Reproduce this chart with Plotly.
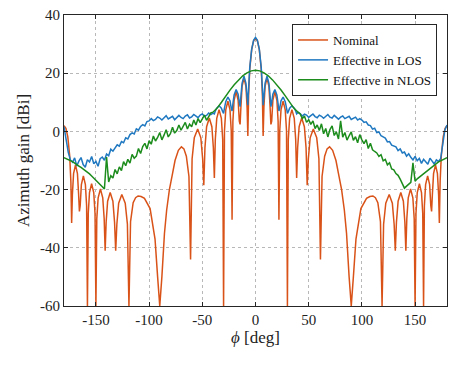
import plotly.graph_objects as go

# ---------------- Nominal pattern ----------------
nominal_phi_neg = [
    -180.00, -178.21, -176.42, -174.62, -173.54, -172.82, -172.10, -171.01, -169.19, -167.36,
    -166.26, -165.52, -164.78, -163.67, -161.79, -159.89, -158.75, -157.98, -157.20, -156.03,
    -154.06, -152.05, -150.83, -150.00, -149.17, -147.91, -145.77, -143.58, -142.23, -141.32,
    -140.39, -138.99, -136.57, -134.05, -132.48, -131.41, -130.31, -128.62, -125.66, -122.46,
    -120.40, -118.96, -117.45, -115.00, -112.70, -110.36, -107.50, -104.36, -99.07, -94.44,
    -92.00, -90.00, -88.00, -85.56, -83.50, -80.93, -78.00, -75.64, -72.50, -69.64,
    -67.30, -65.00, -62.55, -61.04, -59.60, -57.54, -54.34, -51.38, -49.69, -48.59,
    -47.52, -45.95, -43.43, -41.01, -39.61, -38.68, -37.77, -36.42, -34.23, -32.09,
    -30.83, -30.00, -29.17, -27.95, -25.94, -23.97, -22.80, -22.02, -21.25, -20.11,
    -18.21, -16.33, -15.22, -14.48, -13.74, -12.64, -10.81, -8.99, -7.90, -7.18,
    -6.46, -5.38, -3.58, -1.79,
]
nominal_gain_neg = [
    2.0, 1.1, -1.9, -8.5, -17.2, -31.5, -21.7, -14.5, -11.5, -14.5,
    -21.7, -27.5, -25.5, -18.3, -15.3, -18.3, -25.5, -60.0, -28.2, -21.0,
    -18.0, -21.0, -28.2, -60.0, -30.0, -22.8, -19.8, -22.8, -30.0, -41.0,
    -31.2, -24.0, -21.0, -24.0, -31.2, -41.0, -31.9, -24.7, -21.7, -24.7,
    -31.9, -60.0, -31.0, -24.5, -22.8, -22.2, -22.4, -23.0, -26.5, -37.0,
    -50.0, -60.0, -50.0, -35.0, -27.0, -20.0, -14.5, -10.0, -6.5, -5.3,
    -6.0, -8.5, -15.5, -44.0, -9.4, -2.2, 0.8, -2.2, -9.4, -18.5,
    -5.6, 1.6, 4.6, 1.6, -5.6, -16.0, -2.7, 4.5, 7.5, 4.5,
    -2.7, -60.0, 0.2, 7.4, 10.4, 7.4, 0.2, -30.4, 3.5, 10.7,
    13.7, 10.7, 3.5, 2.4, 8.2, 15.4, 18.4, 15.4, 8.2, -1.6,
    12.8, 21.5, 28.1, 31.1,
]
nominal_phi_pos = [
    0.00, 1.79, 3.58, 5.38, 6.46, 7.18, 7.90, 8.99, 10.81, 12.64,
    13.74, 14.48, 15.22, 16.33, 18.21, 20.11, 21.25, 22.02, 22.80, 23.97,
    25.94, 27.95, 29.17, 30.00, 30.83, 32.09, 34.23, 36.42, 37.77, 38.68,
    39.61, 41.01, 43.43, 45.95, 47.52, 48.59, 49.69, 51.38, 54.34, 57.54,
    59.60, 61.04, 62.55, 65.00, 67.30, 69.64, 72.50, 75.64, 78.00, 80.93,
    83.50, 85.56, 88.00, 90.00, 92.00, 94.44, 99.07, 104.36, 107.50, 110.36,
    112.70, 115.00, 117.45, 118.96, 120.40, 122.46, 125.66, 128.62, 130.31, 131.41,
    132.48, 134.05, 136.57, 138.99, 140.39, 141.32, 142.23, 143.58, 145.77, 147.91,
    149.17, 150.00, 150.83, 152.05, 154.06, 156.03, 157.20, 157.98, 158.75, 159.89,
    161.79, 163.67, 164.78, 165.52, 166.26, 167.36, 169.19, 171.01, 172.10, 172.82,
    173.54, 174.62, 176.42, 178.21, 180.00,
]
nominal_gain_pos = [
    32.0, 31.1, 28.1, 21.5, 12.8, -1.6, 8.2, 15.4, 18.4, 15.4,
    8.2, 2.4, 3.5, 10.7, 13.7, 10.7, 3.5, -30.4, 0.2, 7.4,
    10.4, 7.4, 0.2, -60.0, -2.7, 4.5, 7.5, 4.5, -2.7, -16.0,
    -5.6, 1.6, 4.6, 1.6, -5.6, -18.5, -9.4, -2.2, 0.8, -2.2,
    -9.4, -44.0, -15.5, -8.5, -6.0, -5.3, -6.5, -10.0, -14.5, -20.0,
    -27.0, -35.0, -50.0, -60.0, -50.0, -37.0, -26.5, -23.0, -22.4, -22.2,
    -22.8, -24.5, -31.0, -60.0, -31.9, -24.7, -21.7, -24.7, -31.9, -41.0,
    -31.2, -24.0, -21.0, -24.0, -31.2, -41.0, -30.0, -22.8, -19.8, -22.8,
    -30.0, -60.0, -28.2, -21.0, -18.0, -21.0, -28.2, -60.0, -25.5, -18.3,
    -15.3, -18.3, -25.5, -27.5, -21.7, -14.5, -11.5, -14.5, -21.7, -31.5,
    -17.2, -8.5, -1.9, 1.1, 2.0,
]

# ---------------- Effective in LOS ----------------
los_phi = [
    -180, -178, -176, -174, -172, -170, -168, -166, -164, -162,
    -160, -158, -156, -154, -152, -150, -148, -146, -144, -142,
    -140, -138, -136, -134, -132, -130, -128, -126, -124, -122,
    -120, -118, -116, -114, -112, -110, -108, -106, -104, -102,
    -100, -98, -96, -94, -92, -90, -88, -86, -84, -82,
    -80, -78, -76, -74, -72, -70, -68, -66, -64, -62,
    -60, -58, -56, -54, -52, -50, -48, -46, -44, -42,
    -40, -38.68, -37.77, -36.42, -34.23, -32.09, -30.83, -30.0, -29.17, -27.95,
    -25.94, -23.97, -22.8, -22.02, -21.25, -20.11, -18.21, -16.33, -15.22, -14.48,
    -13.74, -12.64, -10.81, -8.99, -7.9, -7.18, -6.46, -5.38, -3.58, -1.79,
    0,
    1.79, 3.58, 5.38, 6.46, 7.18, 7.9, 8.99, 10.81, 12.64, 13.74,
    14.48, 15.22, 16.33, 18.21, 20.11, 21.25, 22.02, 22.8, 23.97, 25.94,
    27.95, 29.17, 30.0, 30.83, 32.09, 34.23, 36.42, 37.77, 38.68, 40,
    42, 44, 46, 48, 50, 52, 54, 56, 58, 60,
    62, 64, 66, 68, 70, 72, 74, 76, 78, 80,
    82, 84, 86, 88, 90, 92, 94, 96, 98, 100,
    102, 104, 106, 108, 110, 112, 114, 116, 118, 120,
    122, 124, 126, 128, 130, 132, 134, 136, 138, 140,
    142, 144, 146, 148, 150, 152, 154, 156, 158, 160,
    162, 164, 166, 168, 170, 172, 174, 176, 178, 180,
]
los_gain = [
    1.6, -3.0, -7.2, -9.8, -10.6, -9.1, -11.9, -10.2, -9.0, -11.4,
    -12.3, -9.7, -10.5, -8.6, -11.1, -10.3, -12.0, -9.4, -8.8, -9.9,
    -7.8, -8.4, -6.1, -6.8, -5.9, -4.6, -5.1, -3.5, -3.9, -2.2,
    -2.6, -1.1, -0.5, -0.9, 0.9, 0.4, 1.7, 2.3, 1.9, 3.4,
    3.6, 4.4, 3.7, 4.1, 5.0, 4.6, 3.9, 4.8, 5.4, 4.3,
    4.7, 5.2, 4.0, 4.9, 5.5, 4.8, 4.4, 5.3, 5.7, 4.6,
    5.0, 5.8, 5.1, 4.7, 5.6, 6.0, 5.2, 5.5, 6.3, 5.8,
    6.3, 6.0, 7.0, 8.0, 8.8, 8.0, 6.8, 6.2, 8.0, 10.2,
    11.8, 10.5, 8.0, 7.0, 9.5, 12.5, 14.4, 12.8, 10.0, 8.5,
    12.0, 16.5, 19.0, 16.5, 12.0, 9.0, 15.0, 22.0, 28.3, 31.3,
    32.3,
    31.3, 28.3, 22.0, 15.0, 9.0, 12.0, 16.5, 19.0, 16.5, 12.0,
    8.5, 10.0, 12.8, 14.4, 12.5, 9.5, 7.0, 8.0, 10.5, 11.8,
    10.2, 8.0, 6.2, 6.8, 8.0, 8.8, 8.0, 7.0, 6.0, 6.5,
    6.1, 5.3, 5.9, 5.6, 4.8, 5.4, 6.0, 5.1, 4.7, 5.6,
    5.2, 4.5, 5.3, 5.8, 4.9, 4.6, 5.5, 5.0, 4.2, 4.9,
    5.3, 4.4, 4.8, 5.2, 4.1, 4.6, 4.9, 3.9, 4.4, 3.9,
    3.1, 3.3, 2.2, 2.0, 0.8, 1.1, -0.4, -0.2, -1.5, -1.9,
    -2.3, -3.6, -3.5, -4.7, -4.9, -5.3, -6.6, -6.0, -7.4, -7.1,
    -8.5, -7.7, -8.9, -9.8, -8.6, -10.1, -9.3, -11.0, -9.6, -10.4,
    -11.3, -9.2, -10.1, -11.2, -9.8, -10.3, -9.4, -3.5, 0.5, 2.2,
]

# ---------------- Effective in NLOS ----------------
nlos_phi = [
    -180, -178, -176, -174, -172, -170, -168, -166, -164, -162,
    -160, -158, -156, -154, -152, -150, -148, -146, -144, -142,
    -140, -138, -136, -134, -132, -130, -128, -126, -124, -122,
    -120, -118, -116, -114, -112, -110, -108, -106, -104, -102,
    -100, -98, -96, -94, -92, -90, -88, -86, -84, -82,
    -80, -78, -76, -74, -72, -70, -68, -66, -64, -62,
    -60, -58, -56, -54, -52, -50, -48, -46, -44, -42,
    -40, -36, -32, -28, -24, -20, -16, -12, -8, -4,
    0, 4, 8, 12, 16, 20, 24, 28, 32, 36, 40,
    42, 44, 46, 48, 50, 52, 54, 56, 58, 60,
    62, 64, 66, 68, 70, 72, 74, 76, 78, 80,
    82, 84, 86, 88, 90, 92, 94, 96, 98, 100,
    102, 104, 106, 108, 110, 112, 114, 116, 118, 120,
    122, 124, 126, 128, 130, 132, 134, 136, 138, 140,
    142, 144, 146, 148, 150, 152, 154, 156, 158, 160,
    162, 164, 166, 168, 170, 172, 174, 176, 178, 180,
]
nlos_gain = [
    -9.0, -9.3, -9.6, -10.0, -10.4, -10.9, -11.3, -11.9, -12.4, -12.9,
    -13.4, -14.0, -14.6, -15.3, -16.0, -16.6, -17.3, -18.1, -19.0, -19.8,
    -8.8, -17.4, -15.2, -16.0, -13.1, -14.6, -12.2, -13.5, -10.4, -11.8,
    -9.6, -10.9, -7.9, -9.2, -8.5, -5.9, -7.6, -5.2, -4.1, -6.0,
    -3.2, -4.4, -1.6, -3.3, -2.1, -0.4, -2.9, -1.3, 0.6, -1.9,
    -0.8, 1.4, -0.6, 0.3, 2.2, 0.4, 1.7, 3.1, 0.8, 2.5,
    1.6, 3.9, 2.2, 4.4, 3.0, 4.1, 5.6, 3.8, 5.2, 6.4,
    6.6, 8.0, 10.0, 12.2, 14.2, 16.0, 17.7, 19.1, 20.1, 20.8,
    21.0, 20.8, 20.1, 19.1, 17.7, 16.0, 14.2, 12.2, 10.0, 8.0, 6.6,
    6.0, 4.4, 5.3, 3.1, 4.0, 2.4, 3.6, 1.0, 2.2, 0.3,
    2.6, -0.8, 1.0, -1.9, 0.6, 1.9, -1.4, -0.2, -2.6, 3.6,
    -2.0, -0.4, -3.0, -1.5, -0.2, -3.1, -1.8, -3.9, -1.1, -2.9,
    -4.2, -2.8, -5.9, -4.1, -6.3, -6.9, -7.4, -8.6, -8.0, -10.1,
    -9.6, -11.5, -10.8, -12.9, -13.2, -14.5, -15.1, -16.4, -17.9, -19.5,
    -18.8, -18.1, -17.5, -10.8, -17.1, -16.3, -15.7, -15.1, -14.5, -14.0,
    -13.4, -12.8, -12.2, -11.6, -11.0, -10.5, -10.1, -9.7, -9.3, -9.0,
]

x_ticks = [-150, -100, -50, 0, 50, 100, 150]
y_ticks = [-60, -40, -20, 0, 20, 40]

nominal_phi = nominal_phi_neg + nominal_phi_pos
nominal_gain = nominal_gain_neg + nominal_gain_pos
assert len(nominal_phi) == len(nominal_gain)
assert len(los_phi) == len(los_gain)
assert len(nlos_phi) == len(nlos_gain)

FONT = "Liberation Serif, Times New Roman, serif"
AX = "#262626"

fig = go.Figure()
fig.add_trace(go.Scatter(x=nominal_phi, y=nominal_gain, mode="lines", name="Nominal",
                         line=dict(color="#D95319", width=1.5)))
fig.add_trace(go.Scatter(x=los_phi, y=los_gain, mode="lines", name="Effective in LOS",
                         line=dict(color="#1F78C0", width=1.5)))
fig.add_trace(go.Scatter(x=nlos_phi, y=nlos_gain, mode="lines", name="Effective in NLOS",
                         line=dict(color="#1C8C1C", width=1.5)))

fig.update_layout(
    width=474, height=374,
    margin=dict(l=64, r=27, t=7, b=68),
    paper_bgcolor="white", plot_bgcolor="white",
    font=dict(family=FONT, size=15, color="#222222"),
    legend=dict(x=0.974, y=0.969, xanchor="right", yanchor="top",
                bgcolor="white", bordercolor=AX, borderwidth=1,
                font=dict(family=FONT, size=13, color="#111111"),
                tracegroupgap=0),
)
fig.update_xaxes(
    range=[-180, 180], tickvals=x_ticks, ticktext=[str(v) for v in x_ticks],
    ticks="inside", ticklen=4, tickcolor=AX, ticklabeloverflow="allow",
    showline=True, mirror="ticks", linecolor=AX, linewidth=1,
    showgrid=True, gridcolor="#b8b8b8", griddash="dot", gridwidth=1,
    zeroline=False,
    title=dict(text="<i>ϕ</i> [deg]", font=dict(family=FONT, size=17), standoff=4),
)
fig.update_yaxes(
    range=[-60, 40], tickvals=y_ticks, ticktext=[str(v) for v in y_ticks],
    ticks="inside", ticklen=4, tickcolor=AX, ticklabeloverflow="allow",
    showline=True, mirror="ticks", linecolor=AX, linewidth=1,
    showgrid=True, gridcolor="#b8b8b8", griddash="dot", gridwidth=1,
    zeroline=False,
    title=dict(text="Azimuth gain [dBi]", font=dict(family=FONT, size=17), standoff=6),
)

fig.write_html("out.html", config={"displayModeBar": False},
               post_script="document.body.style.margin='0px';")
